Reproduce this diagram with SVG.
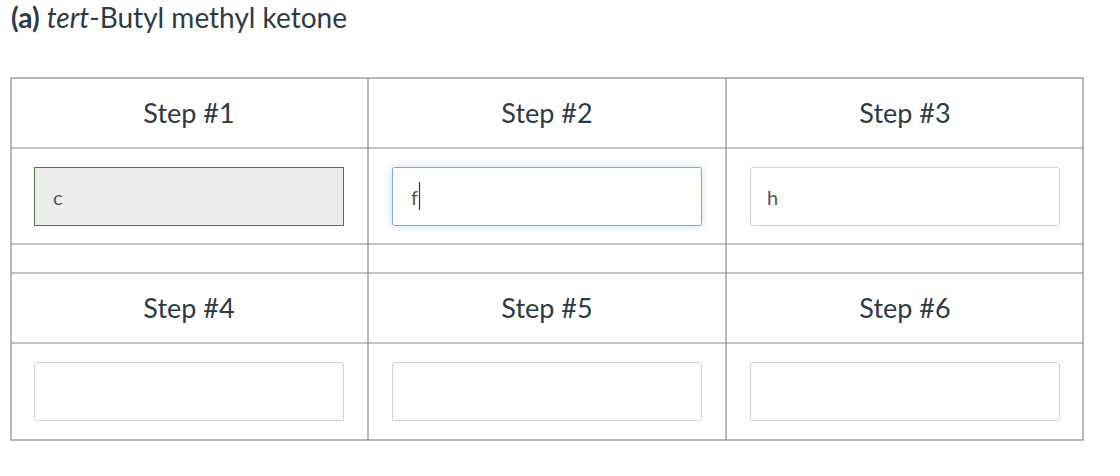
<svg xmlns="http://www.w3.org/2000/svg" width="1120" height="476" viewBox="0 0 1120 476">
<style>
.h{font-family:Lato,"Liberation Sans",sans-serif;font-size:27px;fill:#2d3b45;text-anchor:middle}
.g{stroke:#8a8a8a;stroke-width:1.2;fill:none}
.in{fill:#fff;stroke:#d0d0d0;stroke-width:1}
.v{font-family:Lato,"Liberation Sans",sans-serif;font-size:20px;fill:#555}
</style>
<defs><filter id="glow" x="-10%" y="-40%" width="120%" height="180%"><feGaussianBlur stdDeviation="4"/></filter></defs>
<rect width="1120" height="476" fill="#fff"/>
<text x="11" y="28" font-family="Lato,'Liberation Sans',sans-serif" font-size="28" fill="#2d3b45"><tspan font-weight="bold">(a)</tspan> <tspan font-style="italic">tert</tspan>-Butyl methyl ketone</text>
<g id="grid">
<rect class="g" x="11" y="78" width="1072" height="362"/>
<line class="g" x1="368" y1="78" x2="368" y2="440"/>
<line class="g" x1="726" y1="78" x2="726" y2="440"/>
<line class="g" x1="11" y1="148" x2="1083" y2="148"/>
<line class="g" x1="11" y1="244" x2="1083" y2="244"/>
<line class="g" x1="11" y1="273" x2="1083" y2="273"/>
<line class="g" x1="11" y1="343" x2="1083" y2="343"/>
</g>
<g id="headers">
<text class="h" x="189" y="123">Step #1</text>
<text class="h" x="547" y="123">Step #2</text>
<text class="h" x="905" y="123">Step #3</text>
<text class="h" x="189" y="318">Step #4</text>
<text class="h" x="547" y="318">Step #5</text>
<text class="h" x="905" y="318">Step #6</text>
</g>
<g id="step1"><rect x="34.5" y="167.5" width="309" height="58" fill="#ededed" stroke="#4f7a45" stroke-width="1"/><text class="v" x="53" y="205">c</text></g>
<g id="step2"><rect x="392.5" y="167.5" width="309" height="58" fill="#9cc4f0" filter="url(#glow)" opacity="0.6"/><rect x="392.5" y="167.5" width="309" height="58" rx="2" fill="#fff" stroke="#7aaae0" stroke-width="1"/><text class="v" x="411" y="205">f</text><line x1="419.5" y1="182" x2="419.5" y2="210" stroke="#333" stroke-width="1.2"/></g>
<g id="step3"><rect class="in" x="750.5" y="167.5" width="309" height="58" rx="2"/><text class="v" x="767" y="205">h</text></g>
<g id="step4"><rect class="in" x="34.5" y="362.5" width="309" height="58" rx="2"/></g>
<g id="step5"><rect class="in" x="392.5" y="362.5" width="309" height="58" rx="2"/></g>
<g id="step6"><rect class="in" x="750.5" y="362.5" width="309" height="58" rx="2"/></g>
</svg>
